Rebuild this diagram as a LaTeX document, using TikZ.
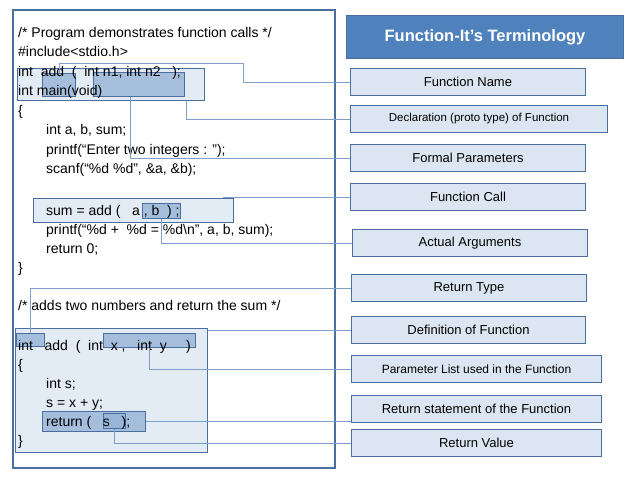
\documentclass[tikz,border=0pt]{standalone}
\usepackage{fontspec}
\setmainfont{Liberation Sans}
\usetikzlibrary{positioning}
\definecolor{frameblue}{HTML}{4A6E9E}
\definecolor{lightblue}{HTML}{DCE6F2}
\definecolor{midblue}{HTML}{95B3D7}
\definecolor{titleblue}{HTML}{4F81BD}
\definecolor{linkblue}{HTML}{7F9FC8}
\newcommand{\codesize}{\fontsize{14pt}{16pt}\selectfont}
\tikzset{
  codeline/.style = {anchor=base west, inner sep=0pt, font=\codesize},
  markbox/.style = {draw=frameblue, line width=1pt, fill=lightblue, fill opacity=0.8, anchor=north west, inner sep=0pt},
  darkbox/.style = {draw=frameblue, line width=1pt, fill=midblue, fill opacity=0.8, anchor=north west, inner sep=0pt},
  termbox/.style = {draw=frameblue, line width=1pt, fill=lightblue, anchor=north west, minimum height=27pt, inner sep=0pt, font=\fontsize{13pt}{15pt}\selectfont},
  link/.style = {draw=linkblue, line width=0.8pt}
}
\begin{document}
\begin{tikzpicture}[x=1pt,y=-1pt]
        \useasboundingbox (0,0) rectangle (638,478);
        %\draw[help lines] (0,0) grid (638,478);
        \draw[frameblue, line width=1.2pt] (13,10) rectangle (335,468);
        
        % marked parts of the code
        \node[markbox, minimum width=187pt, minimum height=32pt] (decl) at (17,68) {};
        \node[darkbox, minimum width=33pt, minimum height=23pt] (add) at (42,73) {};
        \node[darkbox, minimum width=91pt, minimum height=24pt] (params) at (93,72) {};
        \node[markbox, minimum width=200pt, minimum height=24pt] (sum) at (33,198) {};
        \node[darkbox, minimum width=38pt, minimum height=15pt] (ab) at (142,203) {};
        \node[markbox, minimum width=192pt, minimum height=124pt] (def) at (15,328) {};
        \node[darkbox, minimum width=28pt, minimum height=13pt] (intbox) at (16,333) {};
        \node[darkbox, minimum width=92pt, minimum height=14pt] (xy) at (103,333) {};
        \node[darkbox, minimum width=103pt, minimum height=20pt] (ret) at (42,411) {};
        \node[darkbox, minimum width=22pt, minimum height=15pt] (sbox) at (103,413) {};
        
        % code
        \node[codeline] (l1) at (18,38) {/* Program demonstrates function calls */};
        \node[codeline] (l2) at (18,57) {\#include<stdio.h>};
        \node[codeline] (l3) at (18,77) {int \ add \ ( \ int n1, int n2 \ \ );};
        \node[codeline] (l4) at (18,96) {int main(void)};
        \node[codeline] (l5) at (18,116) {\{};
        \node[codeline] (l6) at (46,135) {int a, b, sum;};
        \node[codeline] (l7) at (46,155) {printf(“Enter two integers : ”);};
        \node[codeline] (l8) at (46,174) {scanf(“\%d \%d”, \&a, \&b);};
        \node[codeline] (l9) at (46,216) {sum = add ( \ \ a , b \ ) ;};
        \node[codeline] (l10) at (46,235) {printf(“\%d + \ \%d = \%d\textbackslash n”, a, b, sum);};
        \node[codeline] (l11) at (46,254) {return 0;};
        \node[codeline] (l12) at (18,273) {\}};
        \node[codeline] (l13) at (18,311) {/* adds two numbers and return the sum */};
        \node[codeline] (l14) at (18,351) {int \ \ add \ ( \ int \ x , \ \ int \ y \ \ \ \ )};
        \node[codeline] (l15) at (18,370) {\{};
        \node[codeline] (l16) at (46,389) {int s;};
        \node[codeline] (l17) at (46,408) {s = x + y;};
        \node[codeline] (l18) at (46,427) {return ( \ \ s \ \ );};
        \node[codeline] (l19) at (18,446) {\}};
        
        % terminology
        \node[draw=frameblue, line width=1pt, fill=titleblue, anchor=north west, minimum width=277pt, minimum height=43pt, text=white, font=\bfseries\fontsize{16.5pt}{18pt}\selectfont] (title) at (346,15) {Function-It’s Terminology};
        \node[termbox, minimum width=235pt] (fname) at (350,68) {Function Name};
        \node[termbox, minimum width=257pt, font=\fontsize{11.5pt}{13pt}\selectfont] (declname) at (350,105) {Declaration (proto type) of Function};
        \node[termbox, minimum width=235pt] (formal) at (350,144) {Formal Parameters};
        \node[termbox, minimum width=235pt] (call) at (350,183) {Function Call};
        \node[termbox, minimum width=235pt] (actual) at (352,229) {Actual Arguments};
        \node[termbox, minimum width=235pt] (rtype) at (351,274) {Return Type};
        \node[termbox, minimum width=234pt] (defn) at (351,316) {Definition of Function};
        \node[termbox, minimum width=250pt, font=\fontsize{12pt}{14pt}\selectfont] (plist) at (351,355) {Parameter List used in the Function};
        \node[termbox, minimum width=250pt] (rstmt) at (351,395) {Return statement of the Function};
        \node[termbox, minimum width=250pt] (rval) at (351,429) {Return Value};
        
        % connectors
        \draw[link] (add.north) |- (243,63) |- (fname.west);
        \draw[link] (decl.south -| 186,0) |- (declname.west);
        \draw[link] (params.south -| 130,0) |- (formal.west);
        \draw[link] (sum.north -| 223,0) |- (call.west);
        \draw[link] (ab.south) |- (actual.west);
        \draw[link] (intbox.north) |- (rtype.west);
        \draw[link] (defn.west -| def.east) -- (defn.west);
        \draw[link] (xy.south) |- (plist.west);
        \draw[link] (ret.east) -- (ret.east -| rstmt.west);
        \draw[link] (sbox.south) |- (rval.west);
\end{tikzpicture}
\end{document}
